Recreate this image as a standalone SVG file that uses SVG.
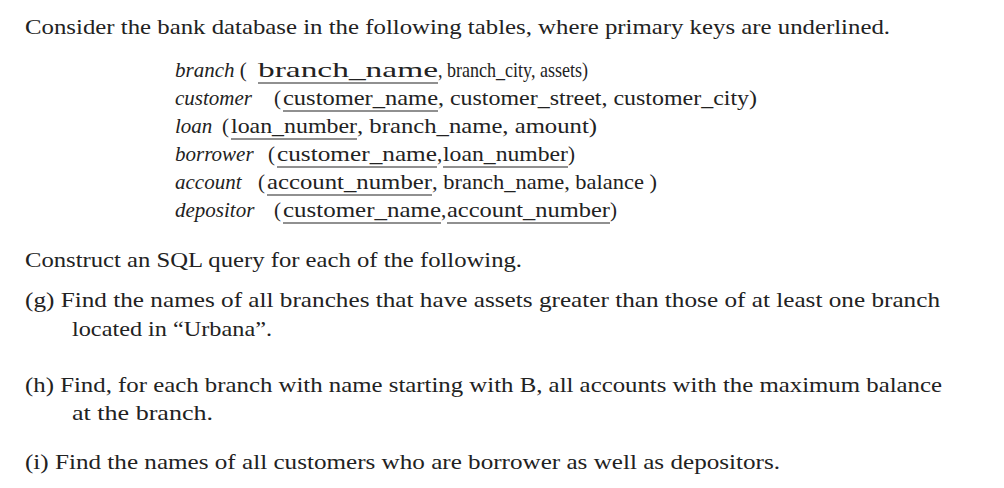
<svg xmlns="http://www.w3.org/2000/svg" width="1004" height="488" viewBox="0 0 1004 488">
<style>
text{font-family:"Liberation Serif","Times New Roman",serif;font-size:21px;fill:#222}
.it{font-style:italic}
line{stroke:#222;stroke-width:1.2}
</style>
<rect width="1004" height="488" fill="#fff"/>
<g id="intro"><text x="25" y="34" textLength="865" lengthAdjust="spacingAndGlyphs">Consider the bank database in the following tables, where primary keys  are underlined.</text></g>
<g id="schema">
<text x="175" y="77"><tspan class="it">branch</tspan> (</text><text x="258" y="77" textLength="180" lengthAdjust="spacingAndGlyphs">branch_name</text><text x="438" y="77" textLength="150" lengthAdjust="spacingAndGlyphs">, branch_city, assets)</text>
<line x1="258" y1="83" x2="438" y2="83"/>
<text x="175" y="105" class="it">customer</text><text x="274" y="105">(</text><text x="283" y="105" textLength="155" lengthAdjust="spacingAndGlyphs">customer_name</text><text x="438" y="105" textLength="319" lengthAdjust="spacingAndGlyphs">, customer_street, customer_city)</text>
<line x1="283" y1="111" x2="438" y2="111"/>
<text x="175" y="133" class="it">loan</text><text x="222" y="133">(</text><text x="231" y="133" textLength="126" lengthAdjust="spacingAndGlyphs">loan_number</text><text x="357" y="133" textLength="240" lengthAdjust="spacingAndGlyphs">, branch_name, amount)</text>
<line x1="231" y1="139" x2="357" y2="139"/>
<text x="175" y="161" class="it">borrower</text><text x="268" y="161">(</text><text x="277" y="161" textLength="160" lengthAdjust="spacingAndGlyphs">customer_name</text><text x="437" y="161">,</text><text x="443" y="161" textLength="125" lengthAdjust="spacingAndGlyphs">loan_number</text><text x="568" y="161">)</text>
<line x1="277" y1="167" x2="437" y2="167"/><line x1="443" y1="167" x2="568" y2="167"/>
<text x="175" y="189" class="it">account</text><text x="258" y="189">(</text><text x="267" y="189" textLength="165" lengthAdjust="spacingAndGlyphs">account_number</text><text x="432" y="189" textLength="225" lengthAdjust="spacingAndGlyphs">, branch_name, balance )</text>
<line x1="267" y1="195" x2="432" y2="195"/>
<text x="175" y="217" class="it">depositor</text><text x="274" y="217">(</text><text x="283" y="217" textLength="158" lengthAdjust="spacingAndGlyphs">customer_name</text><text x="441" y="217">,</text><text x="447" y="217" textLength="163" lengthAdjust="spacingAndGlyphs">account_number</text><text x="610" y="217">)</text>
<line x1="283" y1="223" x2="441" y2="223"/><line x1="447" y1="223" x2="610" y2="223"/>
</g>
<g id="questions">
<text x="25" y="267" textLength="497" lengthAdjust="spacingAndGlyphs">Construct an SQL query for each of the following.</text>
<text x="25" y="307" textLength="915" lengthAdjust="spacingAndGlyphs">(g) Find the names of all branches that have assets greater than those of at least one branch</text>
<text x="72" y="336" textLength="200" lengthAdjust="spacingAndGlyphs">located in “Urbana”.</text>
<text x="25" y="392" textLength="917" lengthAdjust="spacingAndGlyphs">(h) Find, for each branch with name starting with B, all accounts with the maximum balance</text>
<text x="72" y="420" textLength="141" lengthAdjust="spacingAndGlyphs">at the branch.</text>
<text x="25" y="469" textLength="755" lengthAdjust="spacingAndGlyphs">(i) Find the names of all customers who are borrower as well as depositors.</text>
</g>
</svg>
